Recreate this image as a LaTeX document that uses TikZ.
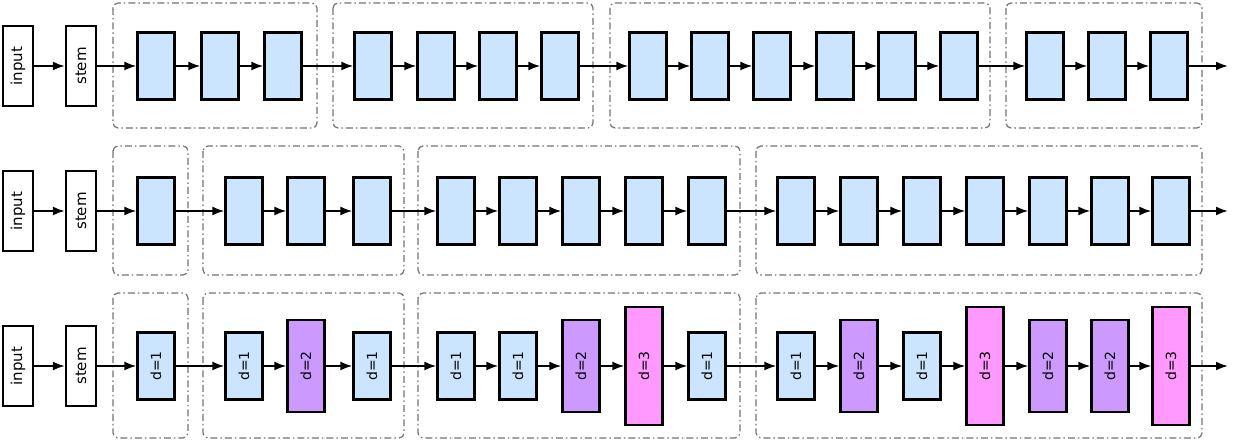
\documentclass[tikz,border=0pt]{standalone}
\usepackage{fontspec}
\setmainfont{DejaVu Sans}
\usetikzlibrary{arrows.meta}
\definecolor{lb}{HTML}{CCE5FF}
\definecolor{pu}{HTML}{CC99FF}
\definecolor{pk}{HTML}{FF99FF}
\begin{document}
\begin{tikzpicture}[x=1pt,y=-1pt,
  io/.style={draw,line width=2.2pt,rotate=90,minimum height=30pt,minimum width=80pt,inner sep=0pt,font=\fontsize{15}{15}\selectfont},
  blk/.style={draw,line width=2.2pt,fill=lb,minimum width=37pt,minimum height=67pt,inner sep=0pt,font=\fontsize{14}{14}\selectfont},
  d1/.style={blk},
  d2/.style={blk,fill=pu,minimum height=92pt},
  d3/.style={blk,fill=pk,minimum height=118pt},
  grp/.style={draw=gray!90!black,dash pattern=on 7pt off 3pt on 1.5pt off 3pt,line width=1.2pt,rounded corners=5pt},
  arr/.style={line width=2pt,-{Latex[length=12pt,width=9pt]}}]
\useasboundingbox (0,0) rectangle (1235,443);
% groups
\foreach \a/\b in {113/317,333/593,610/990,1006/1202}{\draw[grp] (\a,3) rectangle (\b,128);}
\foreach \a/\b in {113/188,203/404,418/740,756/1202}{
  \draw[grp] (\a,146) rectangle (\b,275);
  \draw[grp] (\a,293) rectangle (\b,438);}
% row inputs
\foreach \r/\y in {1/66,2/211,3/366}{
  \node[io] (in\r) at (18,\y) {input};
  \node[io] (st\r) at (81,\y) {stem};
  \draw[arr] (in\r) -- (st\r);
}
% row 1
\foreach \x [count=\i] in {156,220,283,373,436,498,560,648,710,772,835,897,959,1045,1107,1169}{
  \node[blk] (a\i) at (\x,66) {};}
\draw[arr] (st1) -- (a1);
\foreach \i [evaluate=\i as \j using int(\i+1)] in {1,...,15}{\draw[arr] (a\i) -- (a\j);}
\coordinate (e1) at (1228,66);
\draw[arr] (a16) -- (e1);
% row 2
\foreach \x [count=\i] in {156,244,306,372,456,518,581,644,707,796,859,922,985,1048,1110,1171}{
  \node[blk] (b\i) at (\x,211) {};}
\draw[arr] (st2) -- (b1);
\foreach \i [evaluate=\i as \j using int(\i+1)] in {1,...,15}{\draw[arr] (b\i) -- (b\j);}
\coordinate (e2) at (1228,211);
\draw[arr] (b16) -- (e2);
% row 3
\foreach \x/\d [count=\i] in {156/1,244/1,306/2,372/1,456/1,518/1,581/2,644/3,707/1,796/1,859/2,922/1,985/3,1048/2,1110/2,1171/3}{
  \node[d\d] (c\i) at (\x,366) {\rotatebox{90}{d=\d}};}
\draw[arr] (st3) -- (c1);
\foreach \i [evaluate=\i as \j using int(\i+1)] in {1,...,15}{\draw[arr] (c\i) -- (c\j);}
\coordinate (e3) at (1228,366);
\draw[arr] (c16) -- (e3);
\end{tikzpicture}
\end{document}
